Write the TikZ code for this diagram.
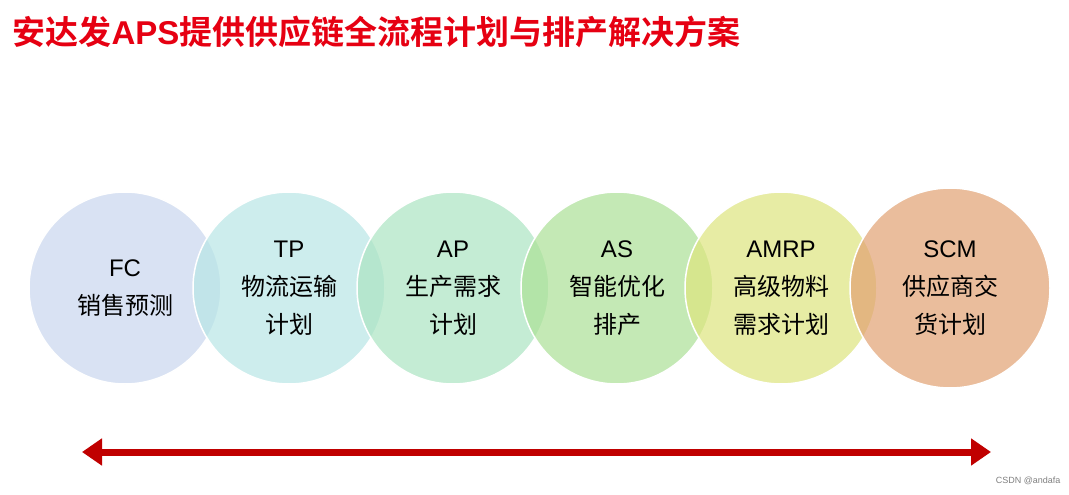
\documentclass[tikz,border=0pt]{standalone}
\usepackage{fontspec}
\setmainfont{Liberation Sans}
\newfontfamily\cjk{Noto Sans CJK SC}
\newfontfamily\cjkb{Noto Sans CJK SC Bold}
\usetikzlibrary{arrows.meta}
\definecolor{ttl}{HTML}{E60012}
\definecolor{arr}{HTML}{C00000}
\definecolor{c1}{HTML}{C9D6EE}
\definecolor{c2}{HTML}{B8E6E6}
\definecolor{c3}{HTML}{ABE4C2}
\definecolor{c4}{HTML}{ACE196}
\definecolor{c5}{HTML}{DEE57E}
\definecolor{c6}{HTML}{E2A173}
\newcommand\lat[1]{{\rmfamily #1}}
\tikzset{ball/.style={circle,minimum size=192pt,draw=white,line width=1.5pt,fill opacity=0.7,text opacity=1,align=center,font=\fontsize{24}{38}\selectfont\cjk}}
\begin{document}
\begin{tikzpicture}[x=1pt,y=-1pt]
\useasboundingbox[fill=white] (0,0) rectangle (1069,495);
\node[anchor=west,text=ttl,font=\fontsize{33}{34}\selectfont\cjkb] (title) at (9,32) {安达发{\rmfamily\bfseries APS}提供供应链全流程计划与排产解决方案};
\node[ball,fill=c1] (fc) at (125,288) {\lat{FC}\\销售预测};
\node[ball,fill=c2] (tp) at (289,288) {\lat{TP}\\物流运输\\计划};
\node[ball,fill=c3] (ap) at (453,288) {\lat{AP}\\生产需求\\计划};
\node[ball,fill=c4] (as) at (617,288) {\lat{AS}\\智能优化\\排产};
\node[ball,fill=c5] (amrp) at (781,288) {\lat{AMRP}\\高级物料\\需求计划};
\node[ball,fill=c6,minimum size=200pt] (scm) at (950,288) {\lat{SCM}\\供应商交\\货计划};
\coordinate (l) at (82,452);
\coordinate (r) at (991,452);
\draw[arr,line width=7pt,{Triangle[length=20pt,width=26pt]}-{Triangle[length=20pt,width=26pt]}] (l) -- (r);
\node[anchor=east,text=gray,font=\fontsize{9}{10}\selectfont] (wm) at (1064,481) {CSDN @andafa};
\end{tikzpicture}
\end{document}
